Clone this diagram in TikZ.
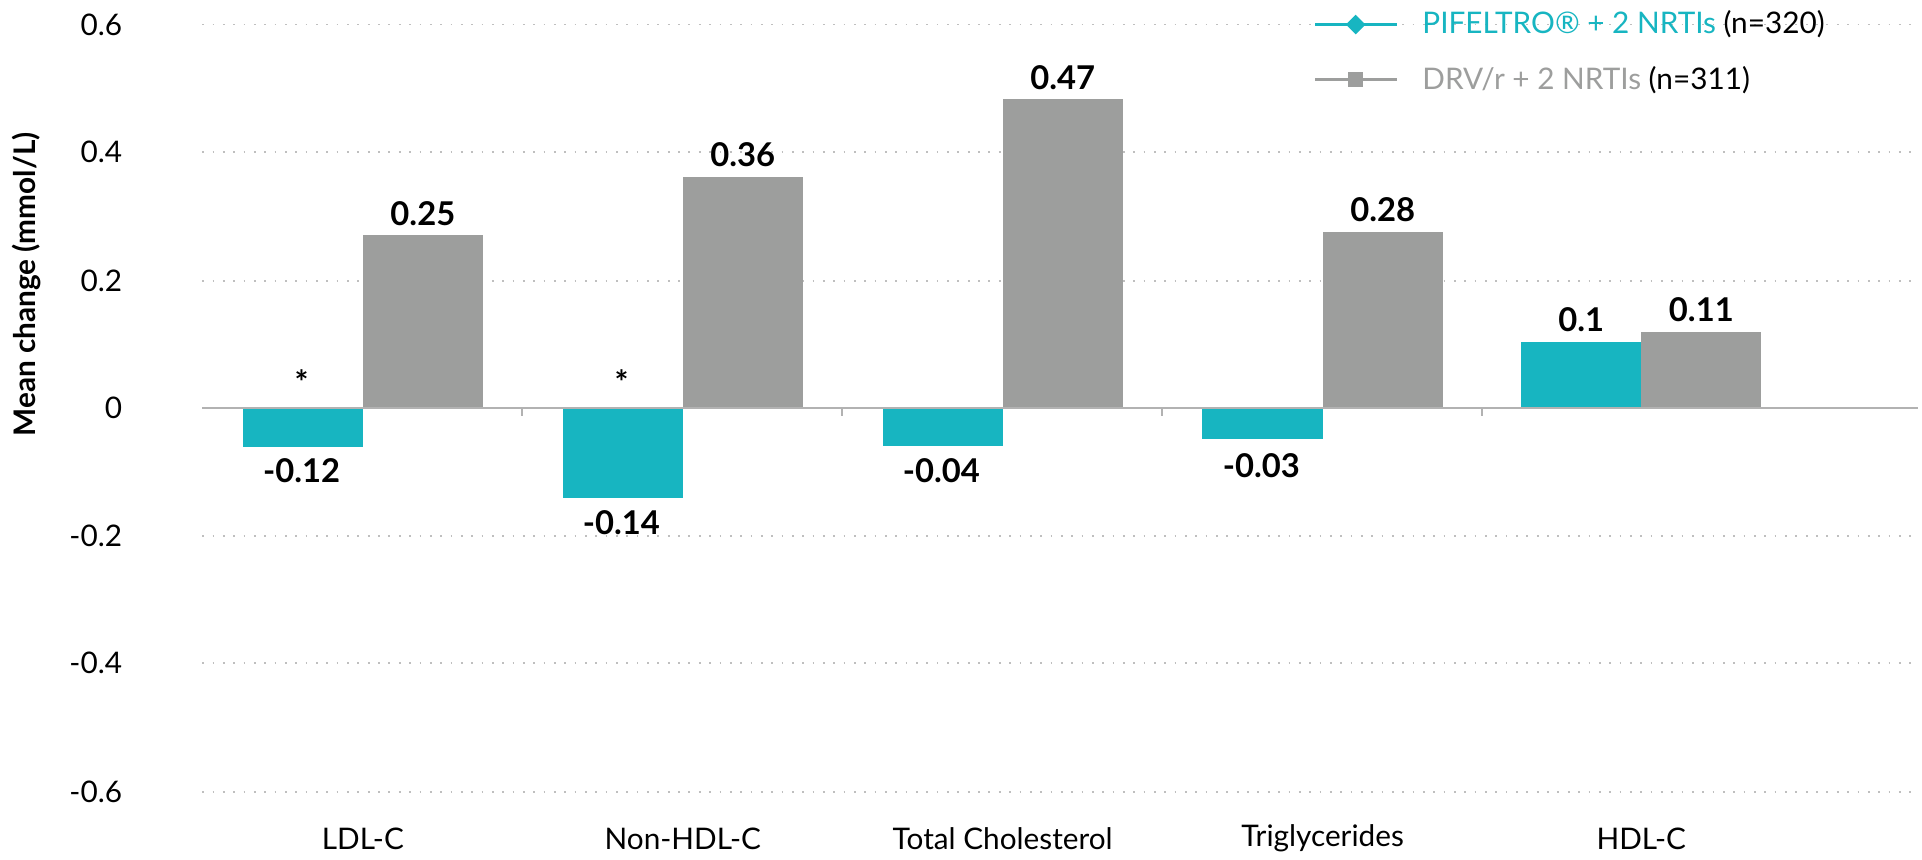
\documentclass[tikz,border=0pt]{standalone}
\usepackage{fontspec}
\setmainfont{Lato}
\definecolor{teal1}{HTML}{17B5C1}
\definecolor{gray1}{HTML}{9D9E9D}
\begin{document}
\begin{tikzpicture}[x=0.01cm,y=-0.01cm,
  tbar/.style={fill=teal1,draw=none},
  gbar/.style={fill=gray1,draw=none},
  val/.style={font=\fontsize{7.6}{9}\selectfont\bfseries},
  tick/.style={font=\fontsize{6.9}{8}\selectfont,anchor=east},
  cat/.style={font=\fontsize{6.9}{8}\selectfont}]
\useasboundingbox (0,0) rectangle (1568,701.5);
\foreach \y/\l in {20/0.6,124/0.4,229/0.2,437/-0.2,541/-0.4,646/-0.6}{
  \draw[gray!50,dotted,line width=0.4pt] (165,\y) -- (1565,\y);
  \node[tick] at (112,\y) {\l};}
\node[tick] at (112,333) {0};
\node[rotate=90,font=\fontsize{6.9}{8}\selectfont\bfseries] (yl) at (22,232) {Mean change (mmol/L)};
% bars
\foreach \c/\tb/\gt [count=\i] in {296/365/192,557/406/144,818/364/81,1079/358/189}{
  \fill[teal1] (\c-98,333) rectangle (\c,\tb);
  \fill[gray1] (\c,333) rectangle (\c+98,\gt);}
\fill[teal1] (1241,333) rectangle (1339,279);
\fill[gray1] (1339,333) rectangle (1437,271);
\draw[gray!60,line width=0.5pt] (165,333) -- (1565,333);
\foreach \x in {426,687,948,1209}{\draw[gray!60,line width=0.5pt] (\x,333) -- (\x,339);}
% labels
\node[val] at (345,174) {0.25};
\node[val] at (606,126) {0.36};
\node[val] at (867,63) {0.47};
\node[val] at (1128,171) {0.28};
\node[val] at (1290,261) {0.1};
\node[val] at (1388,253) {0.11};
\node[val] at (246,384) {-0.12};
\node[val] at (507,426) {-0.14};
\node[val] at (768,384) {-0.04};
\node[val] at (1029,380) {-0.03};
\node[val] at (246,312) {*};
\node[val] at (507,312) {*};
\foreach \c/\t in {296/LDL-C,557/Non-HDL-C,818/Total Cholesterol,1079/Triglycerides,1339/HDL-C}
  \node[cat] at (\c,684) {\t};
% legend
\draw[teal1,line width=0.6pt] (1073,20) -- (1140,20);
\fill[teal1] (1106,12) -- (1114,20) -- (1106,28) -- (1098,20) -- cycle;
\node[anchor=west,font=\fontsize{6.9}{8}\selectfont] (l1) at (1148,20) {\textcolor{teal1}{PIFELTRO® + 2 NRTIs} (n=320)};
\draw[gray1,line width=0.6pt] (1073,65) -- (1140,65);
\fill[gray1] (1100,59) rectangle (1112,71);
\node[anchor=west,font=\fontsize{6.9}{8}\selectfont] (l2) at (1148,65) {\textcolor{gray1}{DRV/r + 2 NRTIs} (n=311)};
\end{tikzpicture}
\end{document}
